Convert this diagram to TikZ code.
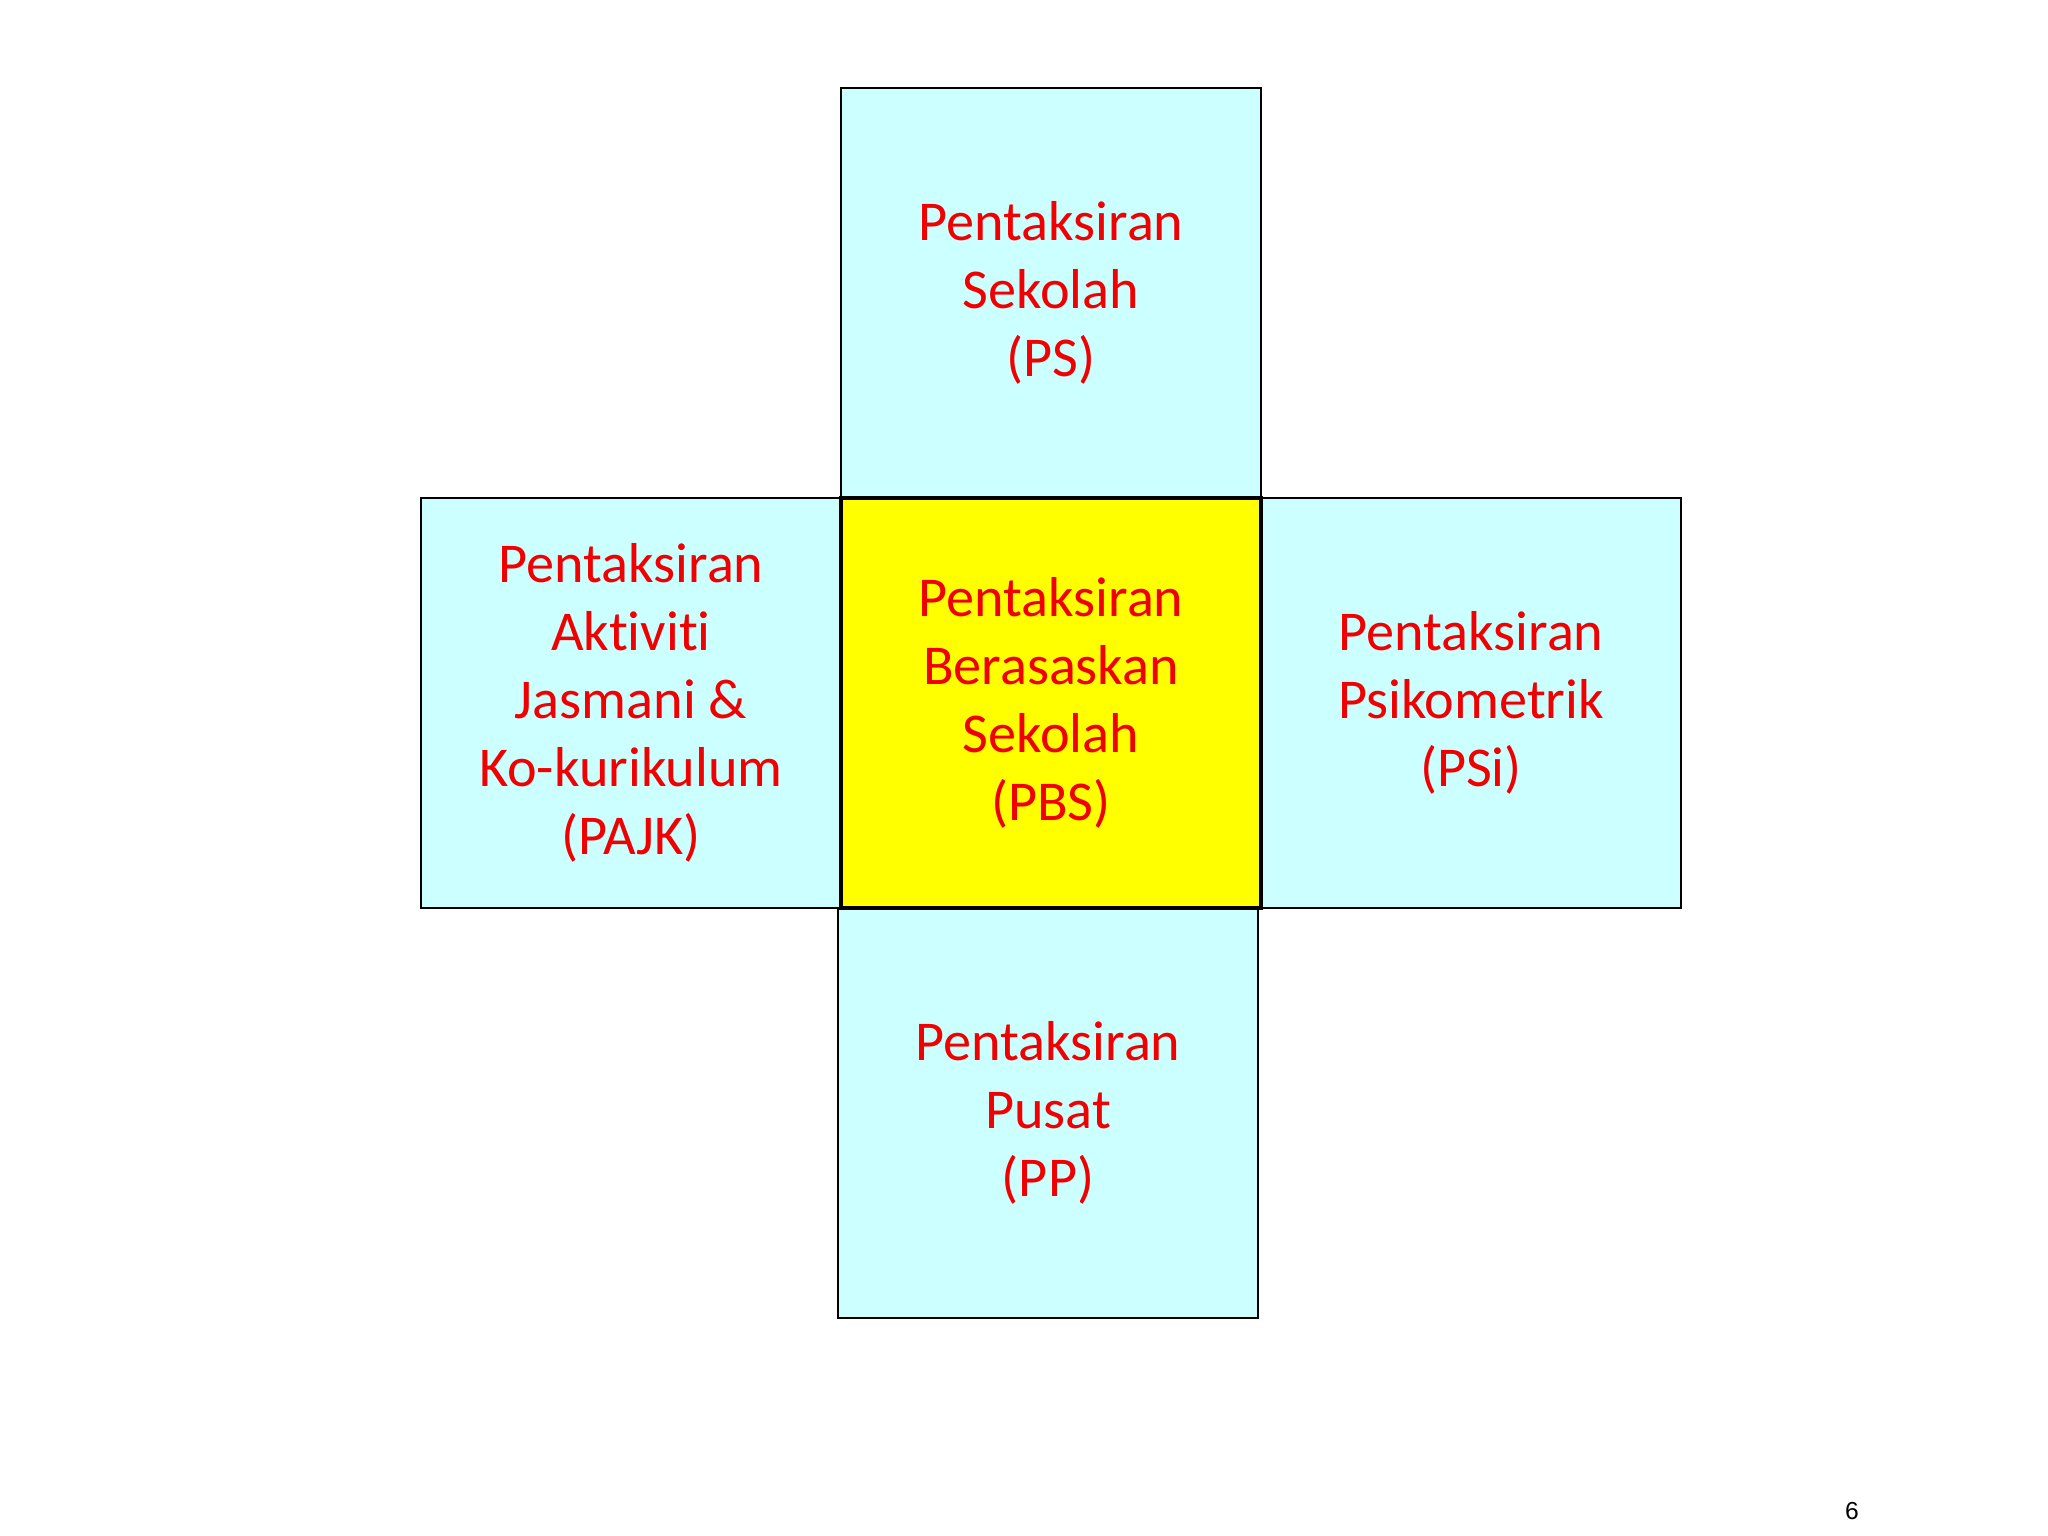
\documentclass[tikz,border=0pt]{standalone}
\usepackage{fontspec}
\setmainfont{Carlito}[RawFeature={-liga;-clig;-calt;-dlig}]
\newfontfamily\pagefont{Liberation Sans}
\usetikzlibrary{positioning}

\definecolor{palecyan}{HTML}{CCFFFF}
\definecolor{pbsyellow}{HTML}{FFFF00}
\definecolor{labelred}{HTML}{F00000}

\tikzset{
  sidebox/.style={draw, line width=0.55pt, fill=palecyan, text=labelred,
    minimum width=4.2cm, minimum height=4.1cm, inner sep=0pt, outer sep=0pt,
    align=center, font=\fontsize{16}{19.4}\selectfont},
  centrebox/.style={sidebox, fill=pbsyellow, line width=0.9pt}
}

\begin{document}
\begin{tikzpicture}[node distance=0pt]
\useasboundingbox[fill=white] (0,0) rectangle (20.48,-15.36);

\node[centrebox] (pbs) at (10.51,-7.03) {Pentaksiran\\Berasaskan\\Sekolah\\(PBS)} ;
\node[sidebox] (ps)   [above=of pbs] {Pentaksiran\\Sekolah\\(PS)} ;
\node[sidebox] (pajk) [left=of pbs]  {Pentaksiran\\Aktiviti\\Jasmani \&\\Ko-kurikulum\\(PAJK)} ;
\node[sidebox] (psi)  [right=of pbs] {Pentaksiran\\Psikometrik\\(PSi)} ;
\node[sidebox] (pp)   [below=of pbs, xshift=-0.03cm] {Pentaksiran\\Pusat\\(PP)} ;

% redraw centre frame over the neighbours
\draw[line width=0.9pt] (pbs.south west) rectangle (pbs.north east);

\node[font=\pagefont\fontsize{7}{8}\selectfont] (pageno) at (18.52,-15.11) {6} ;

\end{tikzpicture}
\end{document}
